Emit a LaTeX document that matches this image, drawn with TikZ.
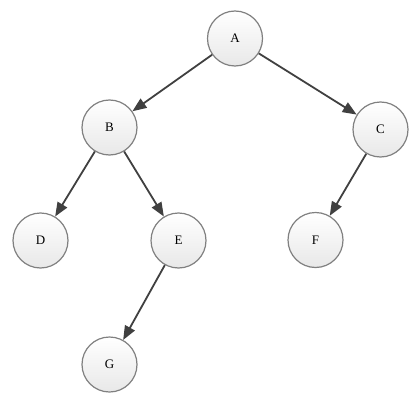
\documentclass[tikz,border=0pt]{standalone}
\usepackage{fontspec}
\setmainfont{Liberation Serif}
\usetikzlibrary{arrows.meta}
\tikzset{
  treenode/.style={circle, minimum size=55pt, inner sep=0pt, draw=black!50, line width=1.2pt,
    top color=white, bottom color=black!9, font=\fontsize{13pt}{15pt}\selectfont},
  edge/.style={draw=black!75, line width=1.8pt, -{Triangle[length=14pt,width=11pt]}, shorten >=0pt}
}
\begin{document}
\begin{tikzpicture}[x=1pt,y=-1pt]
\useasboundingbox (0,0) rectangle (417,401);
\node[treenode] (A) at (235,38.5) {A};
\node[treenode] (B) at (109.5,127.5) {B};
\node[treenode] (C) at (380.5,129.5) {C};
\node[treenode] (D) at (40.5,240.5) {D};
\node[treenode] (E) at (178.5,240.5) {E};
\node[treenode] (F) at (315.5,240) {F};
\node[treenode] (G) at (109.5,364.5) {G};
\draw[edge] (A) -- (B);
\draw[edge] (A) -- (C);
\draw[edge] (B) -- (D);
\draw[edge] (B) -- (E);
\draw[edge] (C) -- (F);
\draw[edge] (E) -- (G);
\end{tikzpicture}
\end{document}
